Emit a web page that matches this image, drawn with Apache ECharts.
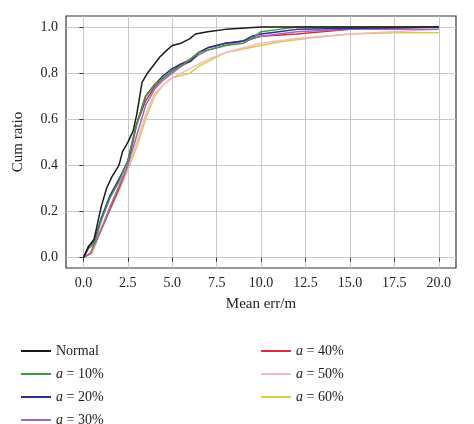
<!DOCTYPE html>
<html><head><meta charset="utf-8">
<script src="https://cdn.jsdelivr.net/npm/echarts@6/dist/echarts.min.js"></script>
<style>html,body{margin:0;padding:0;background:#fff}#c{width:474px;height:424px}</style>
</head><body><div id="c"></div>
<script>
const xTicks = [0,2.5,5,7.5,10,12.5,15,17.5,20];
const yTicks = [0,0.2,0.4,0.6,0.8,1.0];
const seriesNames = ['Normal','a = 10%','a = 20%','a = 30%','a = 40%','a = 50%','a = 60%'];
const seriesColors = ['#1a1a1a','#3c9a3c','#2b2f90','#a565c4','#d72c3c','#f2b9c4','#d9cd45'];
const normalPts = [[0,0],[0.3,0.05],[0.6,0.08],[0.8,0.15],[1.0,0.22],[1.3,0.3],[1.6,0.35],[2.0,0.4],[2.2,0.46],[2.5,0.5],[2.8,0.55],[3.0,0.62],[3.3,0.76],[3.6,0.8],[4.0,0.84],[4.3,0.87],[4.7,0.9],[5.0,0.92],[5.5,0.93],[6.0,0.95],[6.3,0.97],[7,0.98],[8,0.99],[10,1.0],[20,1.0]];
const a10Pts = [[0,0],[0.3,0.04],[0.6,0.06],[1,0.16],[1.5,0.26],[2,0.33],[2.5,0.42],[3,0.58],[3.5,0.7],[4,0.75],[4.5,0.78],[5,0.81],[5.5,0.83],[6,0.86],[6.5,0.89],[7,0.9],[7.5,0.91],[8,0.92],[9,0.93],[9.5,0.95],[10,0.98],[11,0.99],[12,1.0],[20,1.0]];
const a20Pts = [[0,0],[0.3,0.05],[0.6,0.07],[1,0.17],[1.5,0.27],[2,0.34],[2.5,0.42],[3,0.58],[3.5,0.7],[4,0.75],[4.5,0.79],[5,0.82],[5.5,0.84],[6,0.85],[6.5,0.89],[7,0.91],[7.5,0.92],[8,0.93],[9,0.94],[9.5,0.96],[10,0.97],[11,0.98],[12,0.99],[20,1.0]];
const a30Pts = [[0,0],[0.4,0.02],[1,0.12],[1.5,0.22],[2,0.31],[2.5,0.4],[3,0.53],[3.5,0.66],[4,0.73],[4.5,0.77],[5,0.8],[5.5,0.83],[6,0.85],[6.5,0.88],[7,0.9],[8,0.92],[9,0.94],[10,0.96],[12,0.98],[15,0.99],[20,0.99]];
const a40Pts = [[0,0],[0.4,0.02],[1,0.12],[1.5,0.21],[2,0.3],[2.5,0.4],[3,0.58],[3.5,0.68],[4,0.74],[4.5,0.78],[5,0.81],[5.5,0.84],[6,0.86],[6.5,0.89],[7,0.91],[7.5,0.92],[8,0.93],[9,0.94],[10,0.96],[12,0.97],[15,0.99],[20,1.0]];
const a50Pts = [[0,0],[0.4,0.02],[1,0.13],[1.5,0.22],[2,0.3],[2.5,0.38],[3,0.5],[3.5,0.62],[4,0.71],[4.5,0.75],[5,0.78],[5.5,0.8],[6,0.82],[7,0.86],[8,0.89],[9,0.91],[10,0.93],[12,0.95],[15,0.97],[17.5,0.98],[20,0.99]];
const a60Pts = [[0,0],[0.5,0.02],[1,0.12],[1.5,0.21],[2,0.29],[2.5,0.38],[3,0.48],[3.5,0.6],[4,0.7],[4.5,0.75],[5,0.78],[5.5,0.79],[6,0.8],[6.5,0.83],[7,0.85],[7.5,0.87],[8,0.89],[9,0.905],[10,0.92],[11,0.935],[12,0.945],[13,0.955],[15,0.97],[17.5,0.975],[20,0.975]];
const allPts = [normalPts,a10Pts,a20Pts,a30Pts,a40Pts,a50Pts,a60Pts];

const FONT = 'Liberation Serif';
const chart = echarts.init(document.getElementById('c'));
const fmtLegend = n => n.startsWith('a = ') ? '{i|a}' + n.slice(1) : n;
const legendBase = {orient:'vertical', itemWidth:30, itemHeight:2, itemGap:9, height:120,
  textStyle:{fontFamily:FONT,fontSize:14,color:'#222',rich:{i:{fontStyle:'italic',fontFamily:FONT,fontSize:14}}},
  formatter: fmtLegend, icon:'rect'};
chart.setOption({
  animation:false,
  grid:{left:66,right:18,top:16,bottom:156,show:true,borderColor:'#333',borderWidth:1.2},
  xAxis:{type:'value',min:-0.98,max:20.97,
    name:'Mean err/m',nameLocation:'middle',nameGap:29,nameTextStyle:{fontFamily:FONT,fontSize:15,color:'#222'},
    axisLine:{show:false},
    axisTick:{show:true,customValues:xTicks,length:4,lineStyle:{color:'#333'}},
    axisLabel:{customValues:xTicks,formatter:v=>v.toFixed(1),fontFamily:FONT,fontSize:14,color:'#222',margin:8},
    splitLine:{show:true,lineStyle:{color:'#c8c8c8',width:1}}},
  yAxis:{type:'value',min:-0.045,max:1.048,
    name:'Cum ratio',nameLocation:'middle',nameGap:40,nameTextStyle:{fontFamily:FONT,fontSize:15,color:'#222'},
    axisLine:{show:false},
    axisTick:{show:true,customValues:yTicks,length:4,lineStyle:{color:'#333'}},
    axisLabel:{customValues:yTicks,formatter:v=>v.toFixed(1),fontFamily:FONT,fontSize:14,color:'#222',margin:8},
    splitLine:{show:true,lineStyle:{color:'#c8c8c8',width:1}}},
  legend:[
    Object.assign({},legendBase,{left:16,top:339,data:seriesNames.slice(0,4)}),
    Object.assign({},legendBase,{left:256,top:339,data:seriesNames.slice(4)})
  ],
  series: allPts.map((p,i)=>({name:seriesNames[i],type:'line',data:p,showSymbol:false,symbol:'none',
    color:seriesColors[i],lineStyle:{width:1.5,color:seriesColors[i]},z:10-i}))
});
</script></body></html>
